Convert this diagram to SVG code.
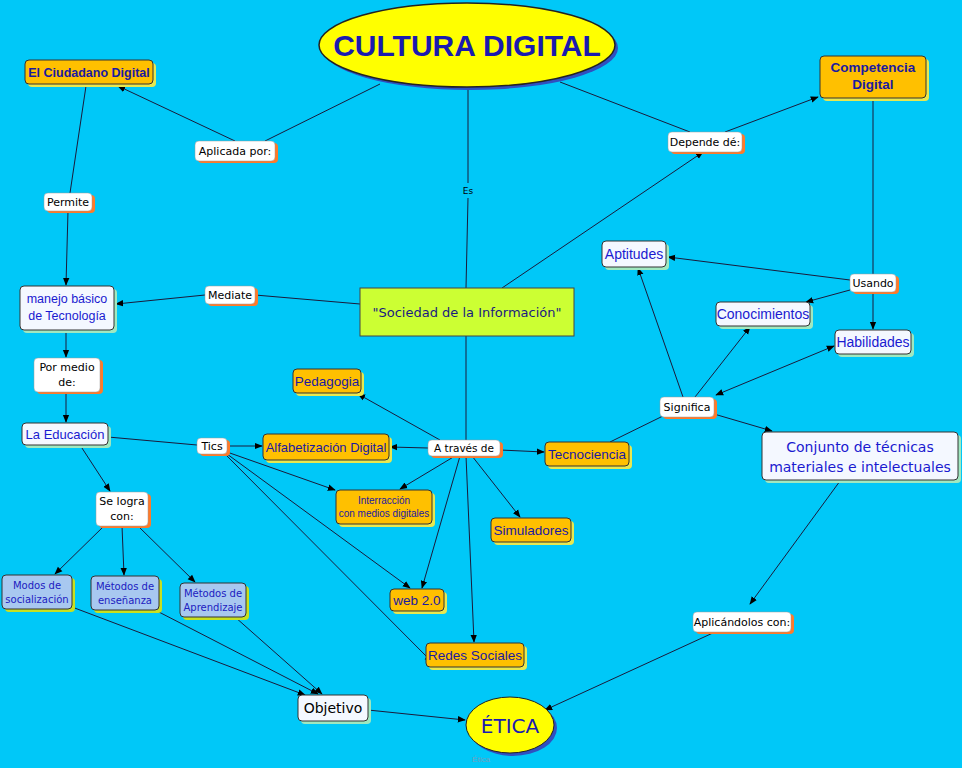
<svg xmlns="http://www.w3.org/2000/svg" width="962" height="768" viewBox="0 0 962 768">
<defs>
<marker id="a" viewBox="0 0 10 10" refX="9" refY="5" markerWidth="8" markerHeight="8" orient="auto-start-reverse"><path d="M0,1 L10,5 L0,9 z" fill="#000"/></marker>
<style>
.c line{stroke:#1a1a3a;stroke-width:1}
.ar{marker-end:url(#a)}
.lb rect.b{fill:#fff;stroke:#999;stroke-width:0.5}
.lb rect.s{fill:#ff7a2a}
.lb text{font-family:"DejaVu Sans",sans-serif;font-size:11px;fill:#000;text-anchor:middle}
.or rect.b{fill:#ffc000;stroke:#333;stroke-width:1}
.or rect.s{fill:#e8e850}
.or text{font-family:"Liberation Sans",sans-serif;font-size:13.5px;fill:#1a1aa0;text-anchor:middle}
.wh rect.b{fill:#f4f8ff;stroke:#333;stroke-width:1}
.wh rect.s{fill:#a0e8c0}
.wh text{font-family:"Liberation Sans",sans-serif;font-size:14px;fill:#1a1ad0;text-anchor:middle}
.bl rect.b{fill:#a8c8f0;stroke:#333;stroke-width:1}
.bl rect.s{fill:#c8e020}
.bl text{font-family:"DejaVu Sans",sans-serif;font-size:10px;fill:#2020c0;text-anchor:middle}
</style>
</defs>
<rect width="962" height="768" fill="#00c8f8"/>
<g class="c">
<line x1="380" y1="84" x2="265" y2="141"/>
<line x1="235" y1="141" x2="118" y2="86" class="ar"/>
<line x1="86" y1="86" x2="70" y2="193"/>
<line x1="68" y1="211" x2="66" y2="285" class="ar"/>
<line x1="468" y1="88" x2="468" y2="183"/>
<line x1="468" y1="198" x2="466" y2="288"/>
<line x1="560" y1="82" x2="690" y2="132"/>
<line x1="725" y1="132" x2="818" y2="97" class="ar"/>
<line x1="502" y1="288" x2="703" y2="152" class="ar"/>
<line x1="360" y1="304" x2="255" y2="295"/>
<line x1="205" y1="295" x2="116" y2="304" class="ar"/>
<line x1="66" y1="330" x2="66" y2="357" class="ar"/>
<line x1="66" y1="392" x2="66" y2="422" class="ar"/>
<line x1="108" y1="437" x2="197" y2="445"/>
<line x1="227" y1="446" x2="262" y2="446" class="ar"/>
<line x1="227" y1="452" x2="335" y2="490" class="ar"/>
<line x1="227" y1="454" x2="410" y2="588" class="ar"/>
<line x1="225" y1="454" x2="432" y2="662" class="ar"/>
<line x1="80" y1="445" x2="110" y2="491" class="ar"/>
<line x1="104" y1="526" x2="55" y2="574" class="ar"/>
<line x1="122" y1="526" x2="124" y2="575" class="ar"/>
<line x1="138" y1="526" x2="195" y2="582" class="ar"/>
<line x1="72" y1="607" x2="305" y2="695" class="ar"/>
<line x1="155" y1="610" x2="318" y2="694" class="ar"/>
<line x1="235" y1="617" x2="322" y2="694" class="ar"/>
<line x1="368" y1="710" x2="465" y2="720" class="ar"/>
<line x1="466" y1="336" x2="466" y2="440"/>
<line x1="440" y1="440" x2="358" y2="394" class="ar"/>
<line x1="428" y1="448" x2="390" y2="447" class="ar"/>
<line x1="455" y1="456" x2="400" y2="489" class="ar"/>
<line x1="460" y1="456" x2="422" y2="588" class="ar"/>
<line x1="466" y1="456" x2="474" y2="642" class="ar"/>
<line x1="472" y1="456" x2="520" y2="517" class="ar"/>
<line x1="500" y1="450" x2="544" y2="452" class="ar"/>
<line x1="610" y1="442" x2="665" y2="415"/>
<line x1="683" y1="397" x2="638" y2="268" class="ar"/>
<line x1="695" y1="397" x2="750" y2="327" class="ar"/>
<line x1="716" y1="395" x2="834" y2="346" class="ar" marker-start="url(#a)"/>
<line x1="714" y1="414" x2="772" y2="431" class="ar"/>
<line x1="873" y1="98" x2="873" y2="274"/>
<line x1="850" y1="280" x2="668" y2="257" class="ar"/>
<line x1="850" y1="290" x2="806" y2="302" class="ar"/>
<line x1="873" y1="292" x2="873" y2="329" class="ar"/>
<line x1="840" y1="481" x2="750" y2="604" class="ar"/>
<line x1="715" y1="632" x2="545" y2="710" class="ar"/>
</g>
<g id="title"><ellipse cx="470" cy="48" rx="148" ry="42" fill="#3050c0"/><ellipse cx="467" cy="45" rx="148" ry="42" fill="#ffff00" stroke="#222" stroke-width="1.5"/><text x="467" y="56" font-family="Liberation Sans,sans-serif" font-size="30" font-weight="bold" fill="#1a1ab0" text-anchor="middle">CULTURA DIGITAL</text></g>
<g id="ciudadano" class="or"><rect class="s" x="28" y="63" width="128" height="24" rx="4"/><rect class="b" x="25" y="60" width="128" height="24" rx="4"/><text x="89" y="77" style="font-weight:bold;font-size:12.5px">El Ciudadano Digital</text></g>
<g id="competencia" class="or"><rect class="s" x="823" y="59" width="106" height="42" rx="4"/><rect class="b" x="820" y="56" width="106" height="42" rx="4"/><text x="873" y="72" style="font-weight:bold">Competencia</text><text x="873" y="89" style="font-weight:bold">Digital</text></g>
<g id="aplicada" class="lb"><rect class="s" x="198" y="143" width="80" height="20" rx="4"/><rect class="b" x="195" y="141" width="80" height="20" rx="4"/><text x="235" y="155">Aplicada por:</text></g>
<text x="468" y="194" font-family="DejaVu Sans,sans-serif" font-size="9" text-anchor="middle">Es</text>
<g id="depende" class="lb"><rect class="s" x="671" y="134" width="74" height="20" rx="4"/><rect class="b" x="668" y="132" width="74" height="20" rx="4"/><text x="705" y="146">Depende dé:</text></g>
<g id="permite" class="lb"><rect class="s" x="47" y="195" width="48" height="18" rx="4"/><rect class="b" x="44" y="193" width="48" height="18" rx="4"/><text x="68" y="206">Permite</text></g>
<g id="manejo" class="wh"><rect class="s" x="23" y="289" width="94" height="44" rx="4"/><rect class="b" x="20" y="286" width="94" height="44" rx="4"/><text x="67" y="303" style="font-size:12.5px">manejo básico</text><text x="67" y="320" style="font-size:12.5px">de Tecnología</text></g>
<g id="mediate" class="lb"><rect class="s" x="208" y="288" width="50" height="18" rx="4"/><rect class="b" x="205" y="286" width="50" height="18" rx="4"/><text x="230" y="299">Mediate</text></g>
<g id="sociedad"><rect x="360" y="288" width="214" height="48" fill="#ccff33" stroke="#444"/><text x="467" y="317" font-family="DejaVu Sans,sans-serif" font-size="13" fill="#1a1a80" text-anchor="middle">"Sociedad de la Información"</text></g>
<g id="aptitudes" class="wh"><rect class="s" x="605" y="244" width="64" height="26" rx="4"/><rect class="b" x="602" y="241" width="64" height="26" rx="4"/><text x="634" y="259">Aptitudes</text></g>
<g id="usando" class="lb"><rect class="s" x="853" y="276" width="46" height="18" rx="4"/><rect class="b" x="850" y="274" width="46" height="18" rx="4"/><text x="873" y="287">Usando</text></g>
<g id="conocimientos" class="wh"><rect class="s" x="719" y="305" width="94" height="24" rx="4"/><rect class="b" x="716" y="302" width="94" height="24" rx="4"/><text x="763" y="319">Conocimientos</text></g>
<g id="habilidades" class="wh"><rect class="s" x="838" y="333" width="76" height="24" rx="4"/><rect class="b" x="835" y="330" width="76" height="24" rx="4"/><text x="873" y="347">Habilidades</text></g>
<g id="pormedio" class="lb"><rect class="s" x="37" y="360" width="66" height="34" rx="4"/><rect class="b" x="34" y="358" width="66" height="34" rx="4"/><text x="67" y="371">Por medio</text><text x="67" y="386">de:</text></g>
<g id="pedagogia" class="or"><rect class="s" x="296" y="372" width="68" height="24" rx="4"/><rect class="b" x="293" y="369" width="68" height="24" rx="4"/><text x="327" y="386">Pedagogia</text></g>
<g id="significa" class="lb"><rect class="s" x="663" y="399" width="54" height="20" rx="4"/><rect class="b" x="660" y="397" width="54" height="20" rx="4"/><text x="687" y="411">Significa</text></g>
<g id="educacion" class="wh"><rect class="s" x="25" y="426" width="86" height="22" rx="4"/><rect class="b" x="22" y="423" width="86" height="22" rx="4"/><text x="65" y="439" style="font-size:13px">La Educación</text></g>
<g id="tics" class="lb"><rect class="s" x="200" y="440" width="30" height="16" rx="4"/><rect class="b" x="197" y="438" width="30" height="16" rx="4"/><text x="212" y="450">Tics</text></g>
<g id="alfabetizacion" class="or"><rect class="s" x="266" y="437" width="126" height="26" rx="4"/><rect class="b" x="263" y="434" width="126" height="26" rx="4"/><text x="326" y="452" style="font-size:13px">Alfabetización Digital</text></g>
<g id="atraves" class="lb"><rect class="s" x="431" y="442" width="72" height="16" rx="4"/><rect class="b" x="428" y="440" width="72" height="16" rx="4"/><text x="464" y="452" style="font-size:10.5px">A  través de</text></g>
<g id="tecnociencia" class="or"><rect class="s" x="548" y="445" width="84" height="24" rx="4"/><rect class="b" x="545" y="442" width="84" height="24" rx="4"/><text x="587" y="459">Tecnociencia</text></g>
<g id="conjunto" class="wh"><rect class="s" x="765" y="435" width="196" height="48" rx="4"/><rect class="b" x="762" y="432" width="196" height="48" rx="4"/><text x="860" y="452" style="font-family:'DejaVu Sans',sans-serif;font-size:14px">Conjunto de técnicas</text><text x="860" y="472" style="font-family:'DejaVu Sans',sans-serif;font-size:14px">materiales e intelectuales</text></g>
<g id="selogra" class="lb"><rect class="s" x="99" y="494" width="52" height="34" rx="4"/><rect class="b" x="96" y="492" width="52" height="34" rx="4"/><text x="122" y="505">Se logra</text><text x="122" y="520">con:</text></g>
<g id="interraccion" class="or"><rect class="s" x="339" y="493" width="96" height="34" rx="4"/><rect class="b" x="336" y="490" width="96" height="34" rx="4"/><text x="384" y="504" style="font-size:10px">Interracción</text><text x="384" y="517" style="font-size:10px">con medios digitales</text></g>
<g id="simuladores" class="or"><rect class="s" x="494" y="521" width="80" height="24" rx="4"/><rect class="b" x="491" y="518" width="80" height="24" rx="4"/><text x="531" y="535">Simuladores</text></g>
<g id="modos" class="bl"><rect class="s" x="5" y="578" width="70" height="34" rx="4"/><rect class="b" x="2" y="575" width="70" height="34" rx="4"/><text x="37" y="589">Modos de</text><text x="37" y="603">socialización</text></g>
<g id="ensenanza" class="bl"><rect class="s" x="94" y="579" width="68" height="34" rx="4"/><rect class="b" x="91" y="576" width="68" height="34" rx="4"/><text x="125" y="590">Métodos de</text><text x="125" y="604">enseñanza</text></g>
<g id="aprendizaje" class="bl"><rect class="s" x="183" y="586" width="66" height="34" rx="4"/><rect class="b" x="180" y="583" width="66" height="34" rx="4"/><text x="213" y="597">Métodos de</text><text x="213" y="611">Aprendizaje</text></g>
<g id="web" class="or"><rect class="s" x="393" y="592" width="54" height="22" rx="4"/><rect class="b" x="390" y="589" width="54" height="22" rx="4"/><text x="417" y="605">web 2.0</text></g>
<g id="aplicandolos" class="lb"><rect class="s" x="696" y="614" width="98" height="20" rx="4"/><rect class="b" x="693" y="612" width="98" height="20" rx="4"/><text x="742" y="626">Aplicándolos con:</text></g>
<g id="redes" class="or"><rect class="s" x="429" y="646" width="98" height="24" rx="4"/><rect class="b" x="426" y="643" width="98" height="24" rx="4"/><text x="475" y="660">Redes Sociales</text></g>
<g id="objetivo" class="wh"><rect class="s" x="301" y="698" width="70" height="26" rx="4"/><rect class="b" x="298" y="695" width="70" height="26" rx="4"/><text x="333" y="713" style="font-family:'DejaVu Sans',sans-serif;fill:#000">Objetivo</text></g>
<g id="etica"><ellipse cx="513" cy="728" rx="44" ry="28" fill="#3050c0"/><ellipse cx="510" cy="725" rx="44" ry="28" fill="#ffff00" stroke="#222"/><text x="510" y="733" font-family="DejaVu Sans,sans-serif" font-size="20" fill="#1a1ab0" text-anchor="middle">ÉTICA</text></g>
<text x="481" y="762" font-family="Liberation Sans,sans-serif" font-size="8" fill="#70a0c0" text-anchor="middle">Ética</text>
</svg>
